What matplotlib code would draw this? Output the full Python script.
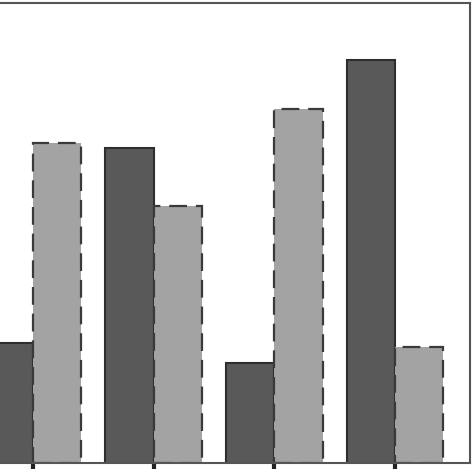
import matplotlib
matplotlib.use("Agg")
import matplotlib.pyplot as plt
import numpy as np

groups = ["G1", "G2", "G3", "G4"]
dark_values = [26.1, 68.5, 21.7, 87.6]
light_values = [69.6, 55.9, 77.0, 25.2]

W = H = 474
fig = plt.figure(figsize=(W / 100, H / 100), dpi=100)
ax = fig.add_axes([0, 11 / H, 470 / W, (463 - 3) / H])

x = np.arange(len(groups))
bw = 0.40
ax.bar(x - bw / 2, dark_values, width=bw, color="#595959", edgecolor="#2e2e2e",
       linewidth=1.5)
ax.bar(x + bw / 2, light_values, width=bw, color="#a3a3a3", edgecolor="#3a3a3a",
       linewidth=1.6, linestyle=(0, (8, 4)))

scale = (395 - 33) / 3
ax.set_xlim(-33 / scale, 3 + (470 - 395) / scale)
ax.set_ylim(0, 100)
ax.set_xticks(x)
ax.set_xticklabels([])
ax.set_yticks([])
ax.tick_params(axis="x", direction="out", length=4, width=3, color="#222222")
for s in ["top", "right", "bottom"]:
    ax.spines[s].set_color("#555555")
    ax.spines[s].set_linewidth(1.5)
ax.spines["left"].set_visible(False)

fig.savefig("out.png", dpi=100)
